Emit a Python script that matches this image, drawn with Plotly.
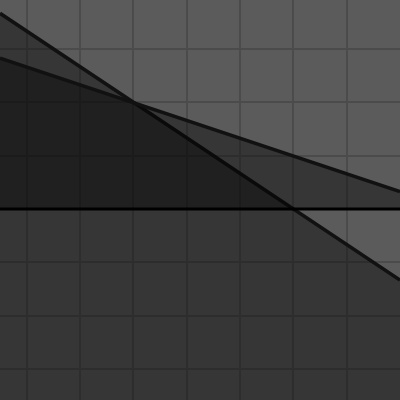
import plotly.graph_objects as go

# two constraint lines plus the y=0 line
x_ends = [-0.5, 7]
steep_y = [3.67, -1.33]
shallow_y = [2.83, 0.33]
floor_y = [-3.58, -3.58]
zero_y = [0, 0]

shade = 'rgba(0,0,0,0.4)'

fig = go.Figure()
# invisible floor so the steep line can fill down to the bottom
fig.add_trace(go.Scatter(x=x_ends, y=floor_y, mode='lines', line=dict(width=0),
                         hoverinfo='skip', showlegend=False))
fig.add_trace(go.Scatter(x=x_ends, y=steep_y, mode='lines', fill='tonexty', fillcolor=shade,
                         line=dict(color='#111111', width=3.5), showlegend=False))
fig.add_trace(go.Scatter(x=x_ends, y=shallow_y, mode='lines', fill='tozeroy', fillcolor=shade,
                         line=dict(color='#111111', width=3.5), showlegend=False))
fig.add_trace(go.Scatter(x=x_ends, y=zero_y, mode='lines',
                         line=dict(color='#000000', width=3), showlegend=False))

fig.update_layout(width=400, height=400, margin=dict(l=0, r=0, t=0, b=0),
                  plot_bgcolor='#5b5b5b', paper_bgcolor='#5b5b5b', showlegend=False)
fig.update_xaxes(range=[-0.5, 7], dtick=1, showgrid=True, gridcolor='#4b4b4b', gridwidth=2,
                 zeroline=False, showticklabels=False, ticks='')
fig.update_yaxes(range=[-3.58, 3.92], dtick=1, showgrid=True, gridcolor='#4b4b4b', gridwidth=2,
                 zeroline=False, showticklabels=False, ticks='')
# page body has an 8px margin by default, drop it so the plot fills the window
fig.write_html("out.html", config={'displayModeBar': False},
               post_script="document.body.style.margin='0';")
